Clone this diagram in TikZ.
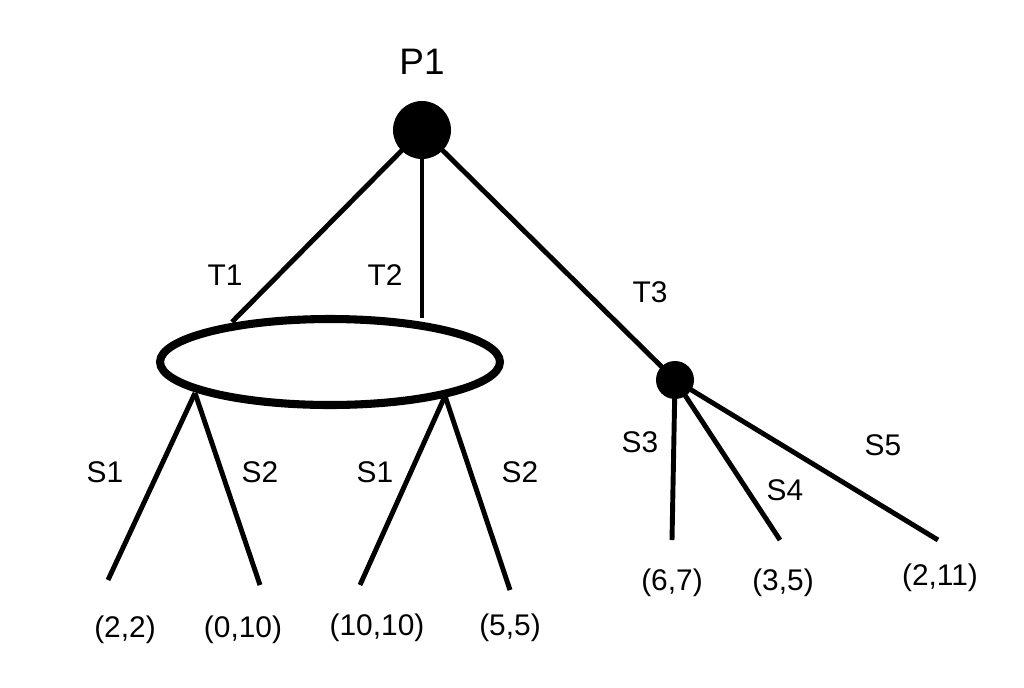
\documentclass[tikz,border=0pt]{standalone}
\usepackage{fontspec}
\setmainfont{Liberation Sans}
\usetikzlibrary{shapes.geometric}
\begin{document}
\begin{tikzpicture}[x=0.02cm,y=-0.02cm,
  edge/.style={line width=2.8pt},
  lbl/.style={font=\fontsize{17}{20}\selectfont},
  leaf/.style={font=\fontsize{17}{20}\selectfont}]
\useasboundingbox (0,0) rectangle (1024,687);
\fill (422,130) circle (29);
\coordinate (root) at (422,130);
\node[draw,ellipse,line width=4.6pt,minimum width=336\pgflinewidth,inner sep=0,minimum width=6.8cm,minimum height=1.72cm] (ell) at (330,362) {};
\fill (675,380) circle (19);
\coordinate (sm) at (675,380);
\coordinate (e1) at (232,322);
\coordinate (e2) at (422,318);
\coordinate (b1) at (195,393);
\coordinate (b2) at (445,396);
\draw[edge] (root) -- (e1);
\draw[edge] (root) -- (e2);
\draw[edge] (root) -- (sm);
\coordinate (l1) at (108,580);
\coordinate (l2) at (260,585);
\coordinate (l3) at (360,585);
\coordinate (l4) at (510,590);
\coordinate (l5) at (672,540);
\coordinate (l6) at (780,540);
\coordinate (l7) at (938,540);
\draw[edge] (b1) -- (l1);
\draw[edge] (b1) -- (l2);
\draw[edge] (b2) -- (l3);
\draw[edge] (b2) -- (l4);
\draw[edge] (sm) -- (l5);
\draw[edge] (sm) -- (l6);
\draw[edge] (sm) -- (l7);
\node[font=\fontsize{21}{24}\selectfont] (p1) at (422,62) {P1};
\node[lbl] (t1) at (225,275) {T1};
\node[lbl] (t2) at (385,275) {T2};
\node[lbl] (t3) at (650,292) {T3};
\node[lbl] (s1a) at (105,472) {S1};
\node[lbl] (s2a) at (260,472) {S2};
\node[lbl] (s1b) at (375,472) {S1};
\node[lbl] (s2b) at (520,472) {S2};
\node[lbl] (s3) at (640,442) {S3};
\node[lbl] (s4) at (785,490) {S4};
\node[lbl] (s5) at (883,445) {S5};
\node[leaf] (v1) at (125,630) {(2,2)};
\node[leaf] (v2) at (243,630) {(0,10)};
\node[leaf] (v3) at (377,628) {(10,10)};
\node[leaf] (v4) at (510,628) {(5,5)};
\node[leaf] (v5) at (672,583) {(6,7)};
\node[leaf] (v6) at (783,583) {(3,5)};
\node[leaf] (v7) at (940,578) {(2,11)};
\end{tikzpicture}
\end{document}
